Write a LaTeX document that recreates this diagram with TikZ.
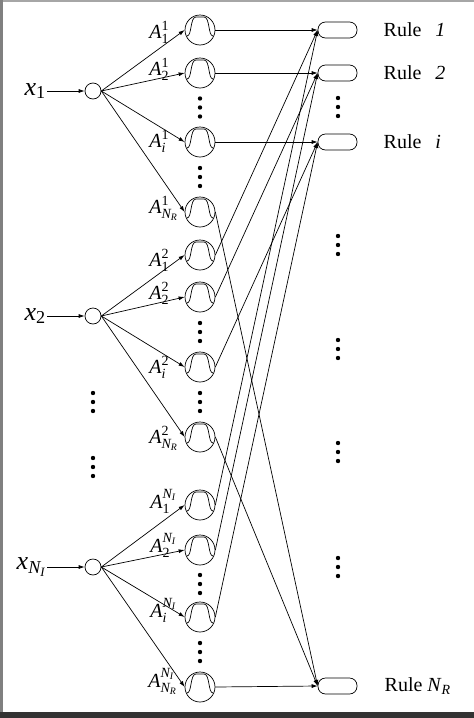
\documentclass[tikz,border=0pt]{standalone}
\usepackage{amsmath}
\usepackage{fontspec}
\setmainfont{Liberation Serif}
\usetikzlibrary{arrows.meta}

% Etiqueta de una función de pertenencia
\newcommand{\mfl}[2]{$\text{\itshape A}^{\text{#1}}_{\text{#2}}$}

\begin{document}
\begin{tikzpicture}[x=1pt, y=-1pt, line width=0.7pt, font=\fontsize{20}{24}\selectfont]
		% Definición de estilos
		\tikzstyle{entrada} = [circle, draw, minimum size=16pt, inner sep=0pt]
		\tikzstyle{mf} = [circle, draw, minimum size=30pt, inner sep=0pt,
			path picture={\draw[line width=0.7pt] ([shift={(-13pt,-6pt)}]path picture bounding box.center)
				.. controls +(5pt,0pt) and +(-6pt,0pt) .. ++(9pt,19pt) -- ++(8pt,0pt)
				.. controls +(6pt,0pt) and +(-5pt,0pt) .. ++(9pt,-19pt);}]
		\tikzstyle{regla} = [rectangle, draw, rounded corners=7.5pt, minimum width=39pt,
			minimum height=16pt, inner sep=0pt]
		\tikzstyle{etiq} = [anchor=base west, inner sep=0pt]
		\tikzstyle{var} = [anchor=east, inner sep=1pt, font=\fontsize{26}{30}\selectfont]
		\tikzstyle{line} = [draw, -{Latex[length=6pt, width=4pt]}]

		% Fondo y marco
		\fill [white] (0,0) rectangle (474,718);
		\fill [black!35] (0,0) rectangle (474,2);
		\fill [black!50] (0,0) rectangle (2.5,718);
		\fill [black!80] (0,712) rectangle (474,718);
		\useasboundingbox (0,0) rectangle (474,718);

		% Nodos
		\node [entrada] (in1) at (93,91) {};
		\node [entrada] (in2) at (93,316) {};
		\node [entrada] (in3) at (93,567) {};

		\node [mf] (a11) at (200,30) {};
		\node [mf, below of=a11, node distance=43pt] (a21) {};
		\node [mf, below of=a21, node distance=69pt] (ai1) {};
		\node [mf, below of=ai1, node distance=70pt] (an1) {};
		\node [mf, below of=an1, node distance=43pt] (a12) {};
		\node [mf, below of=a12, node distance=42pt] (a22) {};
		\node [mf, below of=a22, node distance=70pt] (ai2) {};
		\node [mf, below of=ai2, node distance=70pt] (an2) {};
		\node [mf, below of=an2, node distance=68pt] (a13) {};
		\node [mf, below of=a13, node distance=45pt] (a23) {};
		\node [mf, below of=a23, node distance=67pt] (ai3) {};
		\node [mf, below of=ai3, node distance=70pt] (an3) {};

		\node [regla] (r1) at (337.5,30) {};
		\node [regla, below of=r1, node distance=43pt] (r2) {};
		\node [regla, below of=r2, node distance=69pt] (ri) {};
		\node [regla, below of=ri, node distance=544pt] (rn) {};

		% Entradas
		\node [var] (x1) at (47,91) {\textit{x}$_{\text{1}}$};
		\node [var] (x2) at (47,316) {\textit{x}$_{\text{2}}$};
		\node [var] (x3) at (47,567) {\textit{x}$_{\text{\itshape N$_{\text{\itshape I}}$}}$};

		% Conexiones
		\path [line] (x1.east) -- (in1.west);
		\path [line] (x2.east) -- (in2.west);
		\path [line] (x3.east) -- (in3.west);

		\path [line] (in1.east) -- (a11.west);
		\path [line] (in1.east) -- (a21.west);
		\path [line] (in1.east) -- (ai1.west);
		\path [line] (in1.east) -- (an1.west);
		\path [line] (in2.east) -- (a12.west);
		\path [line] (in2.east) -- (a22.west);
		\path [line] (in2.east) -- (ai2.west);
		\path [line] (in2.east) -- (an2.west);
		\path [line] (in3.east) -- (a13.west);
		\path [line] (in3.east) -- (a23.west);
		\path [line] (in3.east) -- (ai3.west);
		\path [line] (in3.east) -- (an3.west);

		\path [line] (a11.east) -- (r1.west);
		\path [line] (a21.east) -- (r2.west);
		\path [line] (ai1.east) -- (ri.west);
		\path [line] (an1.east) -- (rn.west);
		\path [line] (a12.east) -- (r1.west);
		\path [line] (a22.east) -- (r2.west);
		\path [line] (ai2.east) -- (ri.west);
		\path [line] (an2.east) -- (rn.west);
		\path [line] (a13.east) -- (r1.west);
		\path [line] (a23.east) -- (r2.west);
		\path [line] (ai3.east) -- (ri.west);
		\path [line] (an3.east) -- (rn.west);

		% Etiquetas
		\node [etiq] (e11) at (149,38) {\mfl{1}{1}};
		\node [etiq] (e21) at (149,75) {\mfl{1}{2}};
		\node [etiq] (ei1) at (149,147) {\mfl{1}{\itshape i}};
		\node [etiq] (en1) at (149,213) {\mfl{1}{\itshape N$_{\text{\itshape R}}$}};
		\node [etiq] (e12) at (149,266) {\mfl{2}{1}};
		\node [etiq] (e22) at (149,299) {\mfl{2}{2}};
		\node [etiq] (ei2) at (149,373) {\mfl{2}{\itshape i}};
		\node [etiq] (en2) at (149,443) {\mfl{2}{\itshape N$_{\text{\itshape R}}$}};
		\node [etiq] (e13) at (150,508) {\mfl{\itshape N$_{\text{\itshape I}}$}{1}};
		\node [etiq] (e23) at (150,552) {\mfl{\itshape N$_{\text{\itshape I}}$}{2}};
		\node [etiq] (ei3) at (150,617) {\mfl{\itshape N$_{\text{\itshape I}}$}{\itshape i}};
		\node [etiq] (en3) at (148,687) {\mfl{\itshape N$_{\text{\itshape I}}$}{\itshape N$_{\text{\itshape R}}$}};

		\node [anchor=west] (t1) at (380,30) {Rule\hspace{0.7em}\textit{1}};
		\node [anchor=west] (t2) at (380,73) {Rule\hspace{0.7em}\textit{2}};
		\node [anchor=west] (ti) at (380,142) {Rule\hspace{0.7em}\textit{i}};
		\node [anchor=west] (tn) at (381,686) {Rule \textit{N}\textsubscript{\textit{R}}};

		% Puntos suspensivos
		\foreach \p in {(200,107.5),(200,177),(200,332),(200,402),(200,584),(200,652),
			(93,402),(93,467),(338,107),(338,245),(338,349),(338,452),(338,567)}
			\fill [shift={\p}] (0,-9) circle (2.2pt) (0,0) circle (2.2pt) (0,9) circle (2.2pt);
	\end{tikzpicture}
\end{document}
